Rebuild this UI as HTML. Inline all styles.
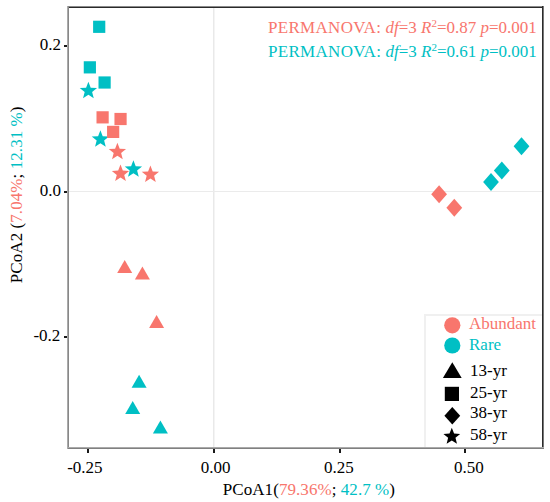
<!DOCTYPE html>
<html><head><meta charset="utf-8"><style>
html,body{margin:0;padding:0;background:#fff;width:550px;height:502px;overflow:hidden}
svg{position:absolute;left:0;top:0;display:block}
text{font-family:"Liberation Serif",serif;font-size:17px;fill:#000}
</style></head><body>
<svg width="550" height="502" viewBox="0 0 550 502">
<rect x="0" y="0" width="550" height="502" fill="#fff"/>
<g shape-rendering="crispEdges">
<rect x="213" y="8" width="1" height="439" fill="#e9e9e9"/><rect x="214" y="8" width="1" height="439" fill="#f4f4f4"/>
<rect x="69" y="191" width="473" height="1.4" fill="#ebebeb"/>
</g>
<g shape-rendering="crispEdges">
<rect x="424" y="314" width="118" height="2" fill="#f0f0f0"/>
<rect x="424" y="314" width="2" height="133" fill="#f0f0f0"/>
</g>
<polygon points="124.70,259.90 132.20,272.90 117.20,272.90" fill="#F8766D"/><polygon points="142.40,266.50 149.90,279.50 134.90,279.50" fill="#F8766D"/><polygon points="156.60,314.90 164.10,327.90 149.10,327.90" fill="#F8766D"/><polygon points="139.10,374.70 146.60,387.70 131.60,387.70" fill="#00BFC4"/><polygon points="132.70,400.90 140.20,413.90 125.20,413.90" fill="#00BFC4"/><polygon points="160.40,420.60 167.90,433.60 152.90,433.60" fill="#00BFC4"/><polygon points="117.40,142.70 119.70,148.63 126.05,148.99 121.12,153.01 122.75,159.16 117.40,155.71 112.05,159.16 113.68,153.01 108.75,148.99 115.10,148.63" fill="#F8766D"/><polygon points="120.50,164.60 122.80,170.53 129.15,170.89 124.22,174.91 125.85,181.06 120.50,177.61 115.15,181.06 116.78,174.91 111.85,170.89 118.20,170.53" fill="#F8766D"/><polygon points="150.40,165.50 152.70,171.43 159.05,171.79 154.12,175.81 155.75,181.96 150.40,178.51 145.05,181.96 146.68,175.81 141.75,171.79 148.10,171.43" fill="#F8766D"/><polygon points="88.40,81.70 90.70,87.63 97.05,87.99 92.12,92.01 93.75,98.16 88.40,94.71 83.05,98.16 84.68,92.01 79.75,87.99 86.10,87.63" fill="#00BFC4"/><polygon points="100.40,130.30 102.70,136.23 109.05,136.59 104.12,140.61 105.75,146.76 100.40,143.31 95.05,146.76 96.68,140.61 91.75,136.59 98.10,136.23" fill="#00BFC4"/><polygon points="133.40,160.20 135.70,166.13 142.05,166.49 137.12,170.51 138.75,176.66 133.40,173.21 128.05,176.66 129.68,170.51 124.75,166.49 131.10,166.13" fill="#00BFC4"/><rect x="93.10" y="20.70" width="12.2" height="12.2" fill="#00BFC4"/><rect x="83.75" y="61.25" width="12.2" height="12.2" fill="#00BFC4"/><rect x="98.50" y="76.40" width="12.2" height="12.2" fill="#00BFC4"/><rect x="96.50" y="111.25" width="12.2" height="12.2" fill="#F8766D"/><rect x="114.45" y="112.90" width="12.2" height="12.2" fill="#F8766D"/><rect x="107.05" y="125.80" width="12.2" height="12.2" fill="#F8766D"/><polygon points="439.10,185.35 447.00,194.30 439.10,203.25 431.20,194.30" fill="#F8766D"/><polygon points="454.30,198.85 462.20,207.80 454.30,216.75 446.40,207.80" fill="#F8766D"/><polygon points="521.50,137.25 529.40,146.20 521.50,155.15 513.60,146.20" fill="#00BFC4"/><polygon points="501.80,161.55 509.70,170.50 501.80,179.45 493.90,170.50" fill="#00BFC4"/><polygon points="491.00,173.05 498.90,182.00 491.00,190.95 483.10,182.00" fill="#00BFC4"/>
<circle cx="452.3" cy="325.3" r="8.1" fill="#F8766D"/><circle cx="452.3" cy="345.5" r="8.1" fill="#00BFC4"/><polygon points="452.30,362.20 461.70,378.10 442.90,378.10" fill="#000"/><rect x="444.80" y="386.80" width="14.2" height="14.2" fill="#000"/><polygon points="452.30,406.95 460.20,415.70 452.30,424.45 444.40,415.70" fill="#000"/><polygon points="451.80,427.80 454.08,433.47 460.17,433.88 455.48,437.80 456.97,443.72 451.80,440.47 446.63,443.72 448.12,437.80 443.43,433.88 449.52,433.47" fill="#000"/>
<g shape-rendering="crispEdges">
<rect x="67" y="6" width="477" height="1" fill="#8a8a8a"/>
<rect x="67" y="7" width="477" height="1" fill="#2a2a2a"/>
<rect x="542" y="6" width="1" height="443" fill="#2b2b2b"/>
<rect x="543" y="6" width="1" height="443" fill="#777"/>
<rect x="67" y="6" width="1" height="443" fill="#aaa"/>
<rect x="68" y="7" width="1" height="442" fill="#888"/>
<rect x="67" y="447" width="477" height="1" fill="#aaa"/>
<rect x="68" y="448" width="476" height="1" fill="#808080"/>
<rect x="63.6" y="45" width="3.4" height="1.5" fill="#1a1a1a"/>
<rect x="63.6" y="191" width="3.4" height="1.5" fill="#1a1a1a"/>
<rect x="63.6" y="336" width="3.4" height="1.5" fill="#1a1a1a"/>
<rect x="87" y="449" width="1.5" height="4" fill="#1a1a1a"/>
<rect x="213" y="449" width="1.5" height="4" fill="#1a1a1a"/>
<rect x="339" y="449" width="1.5" height="4" fill="#1a1a1a"/>
<rect x="464" y="449" width="1.5" height="4" fill="#1a1a1a"/>
</g>
<text x="61" y="50" text-anchor="end">0.2</text>
<text x="61" y="195.6" text-anchor="end">0.0</text>
<text x="60.3" y="341" text-anchor="end">-0.2</text>
<text x="84.9" y="473" text-anchor="middle">-0.25</text>
<text x="215.55" y="473" text-anchor="middle">0.00</text>
<text x="338.9" y="473" text-anchor="middle">0.25</text>
<text x="468.9" y="473" text-anchor="middle">0.50</text>
<text x="222.8" y="494.6" letter-spacing="0.06">PCoA1(<tspan fill="#F8766D">79.36%</tspan>;<tspan fill="#00BFC4"> 42.7 %</tspan>)</text>
<text transform="translate(22,283.2) rotate(-90)" letter-spacing="0.07">PCoA2 (<tspan fill="#F8766D">7.04%</tspan>;<tspan fill="#00BFC4"> 12.31 %</tspan>)</text>
<text x="268" y="32.5" fill="#F8766D" style="fill:#F8766D"><tspan letter-spacing="0.3">PERMANOVA:</tspan> <tspan font-style="italic">df</tspan>=3 <tspan font-style="italic">R</tspan><tspan font-size="11" dy="-6">2</tspan><tspan dy="6">=0.87 </tspan><tspan font-style="italic">p</tspan>=0.001</text>
<text x="268" y="57" style="fill:#00BFC4"><tspan letter-spacing="0.3">PERMANOVA:</tspan> <tspan font-style="italic">df</tspan>=3 <tspan font-style="italic">R</tspan><tspan font-size="11" dy="-6">2</tspan><tspan dy="6">=0.61 </tspan><tspan font-style="italic">p</tspan>=0.001</text>
<text x="469" y="328.7" style="fill:#F8766D">Abundant</text>
<text x="469" y="350.2" style="fill:#00BFC4">Rare</text>
<text x="470" y="376">13-yr</text>
<text x="470" y="397.5">25-yr</text>
<text x="470" y="418.3">38-yr</text>
<text x="470" y="439.8">58-yr</text>
</svg>
</body></html>
